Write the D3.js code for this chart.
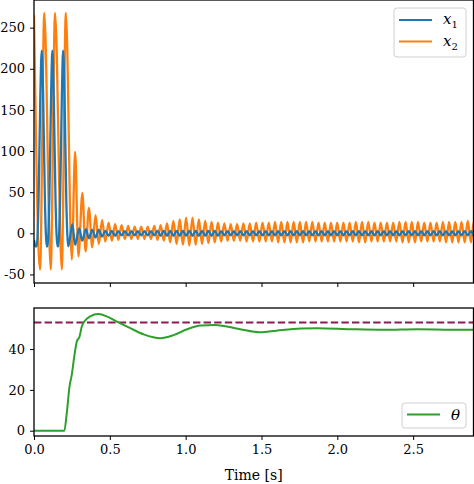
<!DOCTYPE html>
<html>
<head>
<meta charset="utf-8">
<script src="https://cdn.jsdelivr.net/npm/d3@7"></script>
<style>
  body { margin: 0; background: #fff; }
  svg { display: block; }
</style>
</head>
<body>
<svg id="chart" width="474" height="484"></svg>
<script>
// --- data ---
// x1 / x2 during the start-up (big swings), time in s
const x1EarlyT = [0, 0.01, 0.018, 0.030, 0.042, 0.051, 0.060, 0.072, 0.084,
  0.089, 0.101, 0.113, 0.121, 0.130, 0.142, 0.155,
  0.160, 0.172, 0.184, 0.192, 0.201, 0.213, 0.226,
  0.253, 0.271, 0.298, 0.318, 0.342, 0.362];
const x1EarlyV = [-8, -16, -16, 40, 170, 222, 170, 40, -16,
  -16, 40, 170, 222, 170, 40, -16,
  -16, 40, 170, 222, 170, 40, -16,
  11, -14, 6, -9, 5, -6];

const x2EarlyT = [0, 0.040, 0.068, 0.110, 0.139, 0.183, 0.210, 0.249, 0.271, 0.293, 0.319, 0.340, 0.362];
const x2EarlyV = [265, -44, 268, -44, 268, -44, 268, -32, 99, -28, 49, -22, 31];

// peaks / troughs of the steady oscillation afterwards
const tailT = [
  0.384, 0.406, 0.427, 0.449, 0.470, 0.492, 0.513, 0.535, 0.556, 0.578,
  0.599, 0.621, 0.642, 0.664, 0.685, 0.707, 0.728, 0.750, 0.771, 0.793,
  0.814, 0.835, 0.856, 0.877, 0.898, 0.919, 0.940, 0.961, 0.982, 1.003,
  1.024, 1.045, 1.066, 1.087, 1.108, 1.129, 1.150, 1.171, 1.192, 1.213,
  1.234, 1.255, 1.276, 1.297, 1.318, 1.339, 1.360, 1.381, 1.402, 1.423,
  1.444, 1.465, 1.486, 1.507, 1.528, 1.548, 1.569, 1.589, 1.610, 1.630,
  1.651, 1.671, 1.692, 1.712, 1.733, 1.753, 1.774, 1.794, 1.815, 1.835,
  1.856, 1.876, 1.897, 1.917, 1.938, 1.958, 1.979, 1.999, 2.020, 2.040,
  2.061, 2.081, 2.102, 2.122, 2.143, 2.163, 2.184, 2.204, 2.225, 2.245,
  2.266, 2.286, 2.307, 2.327, 2.348, 2.368, 2.389, 2.409, 2.430, 2.450,
  2.471, 2.491, 2.512, 2.532, 2.553, 2.573, 2.594, 2.614, 2.635, 2.655,
  2.676, 2.696, 2.717, 2.737, 2.758, 2.778, 2.799, 2.819, 2.840, 2.860,
  2.881, 2.901, 2.922];

const x2TailV = [
  -17, 22, -13, 16, -10, 13, -9, 11, -8, 10,
  -7, 9, -7, 8, -7, 8, -7, 8, -7, 9,
  -8, 10, -9, 12, -11, 15, -13, 17, -14, 19,
  -15, 19, -14, 17, -13, 15, -12, 14, -11, 13,
  -10, 12, -9, 11, -9, 11, -9, 12, -10, 12,
  -10, 13, -10, 13, -10, 13, -10, 14, -11, 14,
  -11, 14, -11, 14, -11, 14, -11, 14, -10, 14,
  -10, 13, -10, 13, -10, 13, -10, 13, -10, 13,
  -10, 13, -10, 14, -11, 14, -11, 14, -10, 13,
  -10, 13, -10, 13, -10, 13, -10, 14, -11, 14,
  -11, 14, -11, 14, -10, 13, -10, 13, -10, 13,
  -10, 14, -11, 14, -11, 14, -11, 14, -11, 15,
  -11, 15, -11];

const x1TailV = [
  4, -5, 4, -4, 3, -3, 3, -3, 2.5, -2.5,
  2.5, -2.5, 2.5, -2.5, 2.5, -2.5, 2.5, -2.5, 2.5, -2.5,
  3, -3, 3, -3, 3, -3, 3, -3, 3, -3,
  3, -3, 3, -3, 3, -3, 3, -3, 3, -3,
  2.5, -2.5, 2.5, -2.5, 2.5, -2.5, 2.5, -2.5, 2.5, -2.5,
  2.5, -2.5, 2.5, -2.5, 2.5, -2.5, 2.5, -2.5, 2.5, -2.5,
  2.5, -2.5, 2.5, -2.5, 2.5, -2.5, 2.5, -2.5, 2.5, -2.5,
  2.5, -2.5, 2.5, -2.5, 2.5, -2.5, 2.5, -2.5, 2.5, -2.5,
  2.5, -2.5, 2.5, -2.5, 2.5, -2.5, 2.5, -2.5, 2.5, -2.5,
  2.5, -2.5, 2.5, -2.5, 2.5, -2.5, 2.5, -2.5, 2.5, -2.5,
  2.5, -2.5, 2.5, -2.5, 2.5, -2.5, 2.5, -2.5, 2.5, -2.5,
  2.5, -2.5, 2.5, -2.5, 2.5, -2.5, 2.5, -2.5, 2.5, -2.5,
  2.5, -2.5, 2.5];

// theta response and its reference
const thetaT = [0, 0.2, 0.216, 0.234, 0.249, 0.264, 0.282, 0.3, 0.315, 0.337,
  0.37, 0.425, 0.48, 0.547, 0.635, 0.723, 0.833, 0.92, 1.01, 1.1,
  1.19, 1.27, 1.36, 1.49, 1.6, 1.76, 1.87, 2.09, 2.31, 2.53, 2.72, 2.9];
const thetaV = [0, 0, 8.5, 21.6, 27.3, 35.5, 43.6, 46, 51, 54,
  56, 57.1, 56, 53.4, 50.2, 47.2, 45.3, 46.8, 49.7, 51.5,
  51.8, 51, 49.7, 48.2, 49, 50, 50.2, 49.7, 49.4, 49.7, 49.5, 49.4];
const thetaRef = 53;

const timeTicks = [0, 0.5, 1, 1.5, 2, 2.5];
const topTicks = [-50, 0, 50, 100, 150, 200, 250];
const bottomTicks = [0, 20, 40];

// --- layout ---
const svg = d3.select("#chart");
const left = 34, right = 473.5;
const top1 = 0.5, bot1 = 283;
const top2 = 308, bot2 = 436;
const serif = "DejaVu Serif";

const x = d3.scaleLinear().domain([0, 2.898]).range([left, right]);
const y1 = d3.scaleLinear().domain([-60.4, 283]).range([bot1, top1]);
const y2 = d3.scaleLinear().domain([-2.6, 60.1]).range([bot2, top2]);

const defs = svg.append("defs");
defs.append("clipPath").attr("id", "clip1")
  .append("rect").attr("x", left).attr("y", top1).attr("width", right - left).attr("height", bot1 - top1);
defs.append("clipPath").attr("id", "clip2")
  .append("rect").attr("x", left).attr("y", top2).attr("width", right - left).attr("height", bot2 - top2);

const zipped = (ts, vs) => ts.map((t, i) => [t, vs[i]]);
const x1Data = zipped(x1EarlyT, x1EarlyV).concat(zipped(tailT, x1TailV));
const x2Data = zipped(x2EarlyT, x2EarlyV).concat(zipped(tailT, x2TailV));
const thetaData = zipped(thetaT, thetaV);

const line1 = d3.line().x(d => x(d[0])).y(d => y1(d[1])).curve(d3.curveMonotoneX);
const line2 = d3.line().x(d => x(d[0])).y(d => y2(d[1])).curve(d3.curveMonotoneX);

// top panel (x1 sits on top of x2)
const g1 = svg.append("g").attr("clip-path", "url(#clip1)");
g1.append("path").datum(x2Data)
  .attr("d", line1).attr("fill", "none")
  .attr("stroke", "#ff7f0e").attr("stroke-width", 2.3).attr("stroke-linejoin", "round");
g1.append("path").datum(x1Data)
  .attr("d", line1).attr("fill", "none")
  .attr("stroke", "#1f77b4").attr("stroke-width", 2.3).attr("stroke-linejoin", "round");

// bottom panel
const g2 = svg.append("g").attr("clip-path", "url(#clip2)");
g2.append("line")
  .attr("x1", left).attr("x2", right)
  .attr("y1", y2(thetaRef)).attr("y2", y2(thetaRef))
  .attr("stroke", "#8c1a57").attr("stroke-width", 2)
  .attr("stroke-dasharray", "7.4,3.2");
g2.append("path").datum(thetaData)
  .attr("d", line2).attr("fill", "none")
  .attr("stroke", "#2ca02c").attr("stroke-width", 2).attr("stroke-linejoin", "round");

// axes
function styleAxis(g) {
  g.attr("font-family", serif).attr("font-size", 13);
  g.select(".domain").remove();
  g.selectAll(".tick line").attr("stroke", "#000").attr("stroke-width", 1);
}
const intFmt = d => String(d);   // plain hyphen keeps "-50" inside the page

svg.append("g").attr("transform", `translate(${left},0)`)
  .call(d3.axisLeft(y1).tickValues(topTicks).tickSize(4).tickPadding(5).tickFormat(intFmt))
  .call(styleAxis);
svg.append("g").attr("transform", `translate(0,${bot1})`)
  .call(d3.axisBottom(x).tickValues(timeTicks).tickSize(4).tickFormat(""))
  .call(styleAxis);

svg.append("g").attr("transform", `translate(${left},0)`)
  .call(d3.axisLeft(y2).tickValues(bottomTicks).tickSize(4).tickPadding(5).tickFormat(intFmt))
  .call(styleAxis);
svg.append("g").attr("transform", `translate(0,${bot2})`)
  .call(d3.axisBottom(x).tickValues(timeTicks).tickSize(4).tickPadding(5).tickFormat(d3.format(".1f")))
  .call(styleAxis);

// frames
svg.append("rect").attr("x", left).attr("y", top1 - 0.5)
  .attr("width", right - left).attr("height", bot1 - top1 + 0.5)
  .attr("fill", "none").attr("stroke", "#000").attr("stroke-width", 1.3);
svg.append("rect").attr("x", left).attr("y", top2)
  .attr("width", right - left).attr("height", bot2 - top2)
  .attr("fill", "none").attr("stroke", "#000").attr("stroke-width", 1.3);

svg.append("text")
  .attr("x", (left + right) / 2).attr("y", 480)
  .attr("text-anchor", "middle")
  .attr("font-family", serif).attr("font-size", 14)
  .text("Time [s]");

// legends
const leg1 = svg.append("g");
leg1.append("rect").attr("x", 394).attr("y", 8).attr("width", 72).attr("height", 49)
  .attr("rx", 3).attr("fill", "#fff").attr("fill-opacity", 0.85)
  .attr("stroke", "#d0d0d0");
[["#1f77b4", "1", 20], ["#ff7f0e", "2", 41.5]].forEach(([c, sub, yy]) => {
  leg1.append("line").attr("x1", 399).attr("x2", 432).attr("y1", yy).attr("y2", yy)
    .attr("stroke", c).attr("stroke-width", 2);
  const t = leg1.append("text").attr("x", 443).attr("y", yy + 4)
    .attr("font-family", serif).attr("font-size", 15);
  t.append("tspan").attr("font-style", "italic").text("x");
  t.append("tspan").attr("dy", 4).attr("font-size", 10).text(sub);
});

const leg2 = svg.append("g");
leg2.append("rect").attr("x", 402).attr("y", 403).attr("width", 64).attr("height", 25)
  .attr("rx", 3).attr("fill", "#fff").attr("fill-opacity", 0.85)
  .attr("stroke", "#d0d0d0");
leg2.append("line").attr("x1", 407).attr("x2", 440).attr("y1", 414.5).attr("y2", 414.5)
  .attr("stroke", "#2ca02c").attr("stroke-width", 2);
leg2.append("text").attr("x", 451).attr("y", 420)
  .attr("font-family", serif).attr("font-size", 15).attr("font-style", "italic").text("θ");
</script>
</body>
</html>
